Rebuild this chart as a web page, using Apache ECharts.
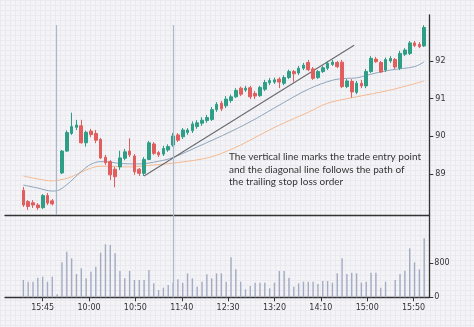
<!DOCTYPE html>
<html>
<head>
<meta charset="utf-8">
<script src="https://cdn.jsdelivr.net/npm/echarts@6/dist/echarts.min.js"></script>
<style>
  html, body { margin: 0; padding: 0; }
  #chart {
    width: 474px; height: 327px;
    background-color: #f4f4f7;
    background-image:
      linear-gradient(#e9e9ef 1px, transparent 1px),
      linear-gradient(90deg, #e9e9ef 1px, transparent 1px);
    background-size: 5px 5px;
  }
</style>
</head>
<body>
<div id="chart"></div>
<script>
// 5-minute bars: [open, close, low, high]; null = no trade in that bar
const candles = [
  [88.57, 88.18, 88.13, 88.66], [88.27, 88.14, 88.05, 88.31], [88.24, 88.18, 88.10, 88.31],
  [88.18, 88.11, 88.05, 88.23], [88.11, 88.43, 88.07, 88.47], [88.43, 88.23, 88.18, 88.50],
  [88.29, 88.21, 88.17, 88.34], null,
  [89.03, 89.61, 89.00, 89.64], [89.61, 90.10, 89.59, 90.16], [90.08, 90.26, 90.04, 90.63],
  [90.24, 90.30, 90.17, 90.44], [90.28, 89.83, 89.81, 90.44], [89.83, 90.11, 89.73, 90.15],
  [90.14, 90.05, 89.98, 90.20], [90.08, 89.90, 89.82, 90.17], [89.92, 89.43, 89.40, 89.96],
  [89.45, 89.30, 89.24, 89.51], [89.33, 88.98, 88.84, 89.37], [89.13, 88.93, 88.65, 89.19],
  [89.19, 89.43, 89.11, 89.62], [89.42, 89.59, 89.37, 89.67], [89.61, 89.51, 89.45, 89.95],
  [89.48, 89.06, 88.98, 89.53], [89.13, 89.02, 88.95, 89.16], [89.02, 89.39, 88.95, 89.45],
  [89.39, 89.83, 89.37, 89.88], [89.80, 89.55, 89.51, 89.85], [89.57, 89.51, 89.45, 89.61],
  [89.53, 89.68, 89.48, 89.75], [89.64, 89.73, 89.59, 89.79], [89.77, 90.01, 89.72, 90.09],
  [90.04, 89.90, 89.85, 90.09], [89.99, 90.17, 89.93, 90.22], [90.10, 90.17, 90.04, 90.22],
  [90.15, 90.33, 90.09, 90.40], [90.26, 90.36, 90.20, 90.43], [90.35, 90.43, 90.28, 90.51],
  [90.42, 90.50, 90.36, 90.57], [90.45, 90.71, 90.41, 90.78], [90.71, 90.85, 90.65, 90.91],
  [90.88, 90.73, 90.67, 90.94], [90.81, 90.99, 90.75, 91.07], [90.95, 91.05, 90.89, 91.11],
  [91.05, 91.22, 91.02, 91.28], [91.28, 91.12, 91.07, 91.32], [91.23, 91.28, 91.18, 91.34],
  [91.29, 91.05, 90.99, 91.34], [91.14, 91.07, 90.99, 91.20], [91.08, 91.30, 91.05, 91.34],
  [91.25, 91.43, 91.20, 91.50], [91.42, 91.48, 91.36, 91.55], [91.44, 91.50, 91.39, 91.56],
  [91.52, 91.44, 91.28, 91.57], [91.41, 91.56, 91.36, 91.62], [91.56, 91.72, 91.52, 91.77],
  [91.72, 91.66, 91.45, 91.76], [91.68, 91.81, 91.63, 91.87], [91.81, 91.89, 91.76, 91.95],
  [91.96, 91.77, 91.73, 92.03], [91.79, 91.54, 91.50, 91.84], [91.56, 91.72, 91.52, 91.76],
  [91.72, 91.82, 91.68, 91.87], [91.81, 91.94, 91.76, 92.00], [91.91, 91.97, 91.87, 92.03],
  [91.96, 91.85, 91.81, 92.00], [91.97, 91.32, 91.28, 92.03], [91.32, 91.47, 91.28, 91.52],
  [91.46, 91.18, 91.03, 91.52], [91.17, 91.41, 91.12, 91.47], [91.41, 91.34, 91.28, 91.50],
  [91.34, 91.72, 91.28, 91.79], [91.72, 92.07, 91.68, 92.13], [92.05, 91.98, 91.95, 92.11],
  [91.96, 91.71, 91.68, 92.00], [91.76, 92.04, 91.71, 92.09], [92.00, 92.07, 91.95, 92.13],
  [92.04, 91.84, 91.79, 92.08], [91.81, 92.20, 91.76, 92.27], [92.18, 92.29, 92.13, 92.34],
  [92.20, 92.48, 92.16, 92.53], [92.48, 92.41, 92.37, 92.53], [92.44, 92.38, 92.34, 92.50],
  [92.40, 92.89, 92.37, 92.95]
];

// traded volume per bar
const volumes = [
  407, 367, 367, 461, 485, 367, 485, 70, 823, 1073,
  917, 548, 682, 447, 603, 720, 1050, 1247, 1231, 1035,
  619, 447, 619, 407, 407, 407, 642, 329, 172, 227,
  290, 350, 423, 345, 564, 447, 251, 367, 541, 447,
  564, 564, 367, 941, 658, 367, 188, 266, 345, 345,
  345, 212, 345, 619, 619, 461, 251, 329, 367, 367,
  367, 313, 384, 384, 345, 564, 917, 548, 580, 564,
  345, 367, 580, 580, 227, 367, 0, 407, 548, 627,
  1152, 823, 658, 1388
];

// moving averages, sampled as [bar, price]
const fastMA = [
  [0, 88.71], [3, 88.63], [6, 88.55], [7, 88.56], [9, 88.72], [12, 89.07], [14, 89.26],
  [16, 89.33], [18, 89.32], [20, 89.28], [24, 89.27], [28, 89.34], [31, 89.44],
  [36, 89.72], [43, 90.13], [48, 90.46], [53, 90.83], [59, 91.25], [64, 91.49],
  [67, 91.54], [69, 91.55], [71, 91.62], [76, 91.76], [81, 91.85], [83, 91.98]
];
const slowMA = [
  [0, 88.95], [3, 88.87], [6, 88.82], [7, 88.83], [10, 88.93], [13, 89.11], [16, 89.21],
  [19, 89.20], [22, 89.19], [26, 89.23], [31, 89.29], [37, 89.40], [40, 89.50],
  [45, 89.77], [49, 90.04], [53, 90.30], [59, 90.64], [63, 90.88], [69, 91.05],
  [76, 91.23], [83, 91.47]
];

// trailing stop path: [bar, price] at its start and end
const stopPath = [[25, 88.95], [68.5, 92.42]];

// bars marked by vertical lines (session open and trade entry)
const markedBars = [6.9, 31.06];

const timeLabels = ['15:45', '10:00', '10:50', '11:40', '12:30', '13:20', '14:10', '15:00', '15:50'];
const timeLabelBars = [4, 13.6, 23.2, 32.8, 42.4, 52, 61.6, 71.2, 80.8];
const priceTicks = [89, 90, 91, 92];
const volumeTicks = [0, 800];

const noteLines = [
  'The vertical line marks the trade entry point',
  'and the diagonal line follows the path of',
  'the trailing stop loss order'
];

const GREEN = '#2e9e86';
const RED = '#e25d5d';
const AXIS = '#333333';
const X_MIN = -3.8, X_MAX = 84.06;
const P_MIN = 87.915, P_MAX = 93.22, LINE_TOP = 92.955;
const V_MAX = 1936.5;

const candleData = [];
candles.forEach((c, i) => { if (c) candleData.push([i, c[0], c[1], c[2], c[3]]); });
const volumeData = volumes.map((v, i) => [i, v]);

const axisText = { color: AXIS, fontSize: 8, fontFamily: 'DejaVu Sans' };
const axisLine = { show: true, onZero: false, lineStyle: { color: AXIS, width: 1.3 } };

const chart = echarts.init(document.getElementById('chart'), null, { renderer: 'canvas' });
chart.setOption({
  animation: false,
  backgroundColor: 'transparent',
  grid: [
    { left: 5, right: 44.7, top: 15, height: 200 },
    { left: 5, right: 44.7, top: 215, height: 82.3 }
  ],
  xAxis: [
    {
      type: 'value', gridIndex: 0, min: X_MIN, max: X_MAX,
      axisLine: axisLine, axisTick: { show: false }, axisLabel: { show: false },
      splitLine: { show: false }
    },
    {
      type: 'value', gridIndex: 1, min: X_MIN, max: X_MAX,
      axisLine: axisLine,
      axisTick: { show: true, customValues: timeLabelBars, length: 4, lineStyle: { color: AXIS, width: 1 } },
      axisLabel: Object.assign({
        customValues: timeLabelBars, margin: 7,
        formatter: v => {
          const k = timeLabelBars.findIndex(t => Math.abs(t - v) < 1e-6);
          return k >= 0 ? timeLabels[k] : '';
        }
      }, axisText),
      splitLine: { show: false }
    }
  ],
  yAxis: [
    {
      type: 'value', gridIndex: 0, position: 'right', min: P_MIN, max: P_MAX,
      axisLine: axisLine,
      axisTick: { show: true, customValues: priceTicks, length: 4, lineStyle: { color: AXIS, width: 1 } },
      axisLabel: Object.assign({ customValues: priceTicks, margin: 6 }, axisText),
      splitLine: { show: false }
    },
    {
      type: 'value', gridIndex: 1, position: 'right', min: 0, max: V_MAX,
      axisLine: axisLine,
      axisTick: { show: true, customValues: volumeTicks, length: 4, lineStyle: { color: AXIS, width: 1 } },
      axisLabel: Object.assign({ customValues: volumeTicks, margin: 5 }, axisText),
      splitLine: { show: false }
    }
  ],
  series: [
    {
      name: 'slow MA', type: 'line', xAxisIndex: 0, yAxisIndex: 0,
      data: slowMA, smooth: 0.35, symbol: 'none', z: 2,
      lineStyle: { color: '#f4b990', width: 1 }
    },
    {
      name: 'fast MA', type: 'line', xAxisIndex: 0, yAxisIndex: 0,
      data: fastMA, smooth: 0.35, symbol: 'none', z: 2,
      lineStyle: { color: '#8ea4ba', width: 1 }
    },
    {
      name: 'trailing stop', type: 'line', xAxisIndex: 0, yAxisIndex: 0,
      data: stopPath, symbol: 'none', z: 3,
      lineStyle: { color: '#6a6a6e', width: 1.1 }
    },
    {
      name: 'price', type: 'candlestick', xAxisIndex: 0, yAxisIndex: 0,
      data: candleData, encode: { x: 0, y: [1, 2, 3, 4] },
      barWidth: 3.2, z: 4,
      itemStyle: { color: GREEN, color0: RED, borderColor: GREEN, borderColor0: RED, borderWidth: 1 },
      markLine: {
        silent: true, symbol: 'none', label: { show: false },
        lineStyle: { color: '#a9b9cd', width: 1.2, type: 'solid' },
        data: markedBars.map(b => [{ coord: [b, LINE_TOP] }, { coord: [b, P_MIN] }])
      }
    },
    {
      name: 'volume', type: 'bar', xAxisIndex: 1, yAxisIndex: 1,
      data: volumeData, barWidth: 1.4,
      itemStyle: { color: '#a2abc2' },
      markLine: {
        silent: true, symbol: 'none', label: { show: false },
        lineStyle: { color: '#a9b9cd', width: 1.2, type: 'solid' },
        data: [[{ coord: [markedBars[1], V_MAX] }, { coord: [markedBars[1], 0] }]]
      }
    }
  ],
  graphic: [{
    type: 'text', left: 229, top: 151,
    style: {
      text: noteLines.join('\n'),
      font: '10px Lato', fill: '#353535', lineHeight: 12.5
    }
  }]
});
</script>
</body>
</html>
